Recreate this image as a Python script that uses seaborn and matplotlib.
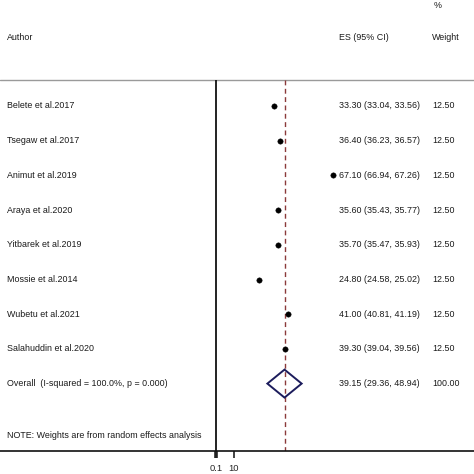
import matplotlib
matplotlib.use("Agg")
import matplotlib.pyplot as plt
import matplotlib.transforms as mtransforms
from matplotlib.patches import Polygon
import seaborn as sns
import pandas as pd

authors = ["Belete et al.2017", "Tsegaw et al.2017", "Animut et al.2019", "Araya et al.2020",
           "Yitbarek et al.2019", "Mossie et al.2014", "Wubetu et al.2021", "Salahuddin et al.2020"]
es = [33.30, 36.40, 67.10, 35.60, 35.70, 24.80, 41.00, 39.30]
lo = [33.04, 36.23, 66.94, 35.43, 35.47, 24.58, 40.81, 39.04]
hi = [33.56, 36.57, 67.26, 35.77, 35.93, 25.02, 41.19, 39.56]
weights = [12.50] * 8
overall_label = "Overall  (I-squared = 100.0%, p = 0.000)"
overall_es, overall_lo, overall_hi, overall_w = 39.15, 29.36, 48.94, 100.00
note = "NOTE: Weights are from random effects analysis"
xticks = [0.1, 10]
xticklabels = ["0.1", "10"]

sns.set_theme(style="white")
plt.rcParams['font.family'] = ['Liberation Sans', 'DejaVu Sans']

fig = plt.figure(figsize=(4.74, 4.74), dpi=100)
W = H = 474.0
ax_bottom_px = 451.0
ax = fig.add_axes([0, (H - ax_bottom_px) / H, 1, ax_bottom_px / H])

# x scale: 0 -> 216px, 1.75 px per unit
x0px, sc = 216.0, 1.75
ax.set_xlim(-x0px / sc, (W - x0px) / sc)
# y scale: row 0 -> 106px, 34.7 px per row
y0px, rs = 106.0, 34.7
def row(px):
    return (px - y0px) / rs
ax.set_ylim(row(ax_bottom_px), row(0))

fs = 6.4
for s in ["top", "left", "right"]:
    ax.spines[s].set_visible(False)
ax.spines["bottom"].set_color("#111111")
ax.spines["bottom"].set_linewidth(1.2)
ax.set_yticks([])
ax.set_xticks(xticks)
ax.set_xticklabels(xticklabels, fontsize=6.7)
ax.tick_params(axis="x", direction="out", length=5, width=1.2, color="#222222", pad=4.5, bottom=True)
ax.xaxis.get_major_ticks()[0].tick1line.set_markeredgewidth(2.6)

df = pd.DataFrame({"author": authors, "es": es, "lo": lo, "hi": hi, "row": list(range(len(authors)))})

# top horizontal line
top_row = row(80)
ax.axhline(top_row, color="#9a9a9a", lw=1.0)
# null line
ax.plot([0, 0], [top_row, row(ax_bottom_px)], color="#111111", lw=1.3, solid_capstyle="butt")
# overall dashed line
ax.plot([overall_es, overall_es], [top_row, row(ax_bottom_px)], color="#8b3a3a", lw=1.0,
        ls=(0, (3.5, 2.5)))

# CIs
for _, r in df.iterrows():
    ax.plot([r["lo"], r["hi"]], [r["row"], r["row"]], color="black", lw=0.8)
sns.scatterplot(data=df, x="es", y="row", ax=ax, color="black", s=15, marker="o",
                edgecolor="black", linewidth=0.3, zorder=5, legend=False)

# diamond
orow = len(authors)
dh = 14.0 / rs
diamond = Polygon([[overall_lo, orow], [overall_es, orow - dh], [overall_hi, orow], [overall_es, orow + dh]],
                  closed=True, fill=False, edgecolor="#1c1c5c", lw=1.4, zorder=6)
ax.add_patch(diamond)

trans = mtransforms.blended_transform_factory(ax.transAxes, ax.transData)
xa, xe, xw = 7 / W, 339 / W, 432 / W
tc = "#1a1a1a"
ax.text(xa, row(38), "Author", transform=trans, fontsize=fs, va="center", ha="left", color=tc)
ax.text(xe, row(38), "ES (95% CI)", transform=trans, fontsize=fs, va="center", ha="left", color=tc)
ax.text(xw, row(38), "Weight", transform=trans, fontsize=fs, va="center", ha="left", color=tc)
ax.text(434 / W, row(6), "%", transform=trans, fontsize=fs, va="center", ha="left", clip_on=False, color=tc)

for i, a in enumerate(authors):
    ax.text(xa, i, a, transform=trans, fontsize=fs, va="center", ha="left", color=tc)
    ax.text(xe, i, f"{es[i]:.2f} ({lo[i]:.2f}, {hi[i]:.2f})", transform=trans, fontsize=fs, va="center", ha="left", color=tc)
    ax.text(xw, i, f"{weights[i]:.2f}", transform=trans, fontsize=fs, va="center", ha="left", color=tc)

ax.text(xa, orow, overall_label, transform=trans, fontsize=fs, va="center", ha="left", color=tc)
ax.text(xe, orow, f"{overall_es:.2f} ({overall_lo:.2f}, {overall_hi:.2f})", transform=trans, fontsize=fs, va="center", ha="left", color=tc)
ax.text(xw, orow, f"{overall_w:.2f}", transform=trans, fontsize=fs, va="center", ha="left", color=tc)
ax.text(xa, row(435), note, transform=trans, fontsize=fs, va="center", ha="left", color=tc)

ax.set_xlabel("")
ax.set_ylabel("")
fig.savefig("out.png", dpi=100)
